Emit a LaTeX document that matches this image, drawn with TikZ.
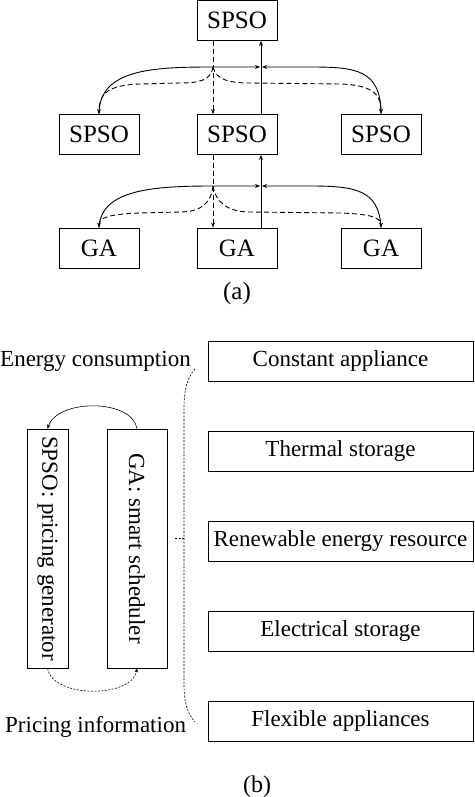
\documentclass[tikz,border=0pt]{standalone}
\usepackage{fontspec}
\setmainfont{Liberation Serif}
\usetikzlibrary{arrows.meta}
\tikzset{
  box/.style={draw,line width=0.9pt,minimum width=80pt,minimum height=40pt,inner sep=0pt,font=\fontsize{25}{28}\selectfont},
  rbox/.style={draw,line width=0.8pt,minimum width=265pt,minimum height=40pt,inner sep=0pt,font=\fontsize{23}{26}\selectfont},
  vbox/.style={draw,line width=0.8pt,rotate=-90,minimum width=239pt,inner sep=0pt,font=\fontsize{23}{26}\selectfont},
  flow/.style={line width=0.9pt,-{Stealth[length=5pt,width=4pt]}},
  dflow/.style={flow,dash pattern=on 5pt off 3pt},
  thin dash/.style={line width=0.6pt,dash pattern=on 2pt off 1.5pt}
}
\begin{document}
\begin{tikzpicture}[x=1pt,y=-1pt]
  \useasboundingbox (0,0) rectangle (474,797);
  % (a)
  \node [box] (top) at (237,20.5) {SPSO};
  \node [box] (m1) at (99,134.5) {SPSO};
  \node [box] (m2) at (237,134.5) {SPSO};
  \node [box] (m3) at (381,134.5) {SPSO};
  \node [box] (g1) at (99,248) {GA};
  \node [box] (g2) at (237,248) {GA};
  \node [box] (g3) at (381,248) {GA};
  \coordinate (h1) at (213,67);
  \coordinate (h2) at (213,186);
  \coordinate (in1) at (260,67);
  \coordinate (in1r) at (262,67);
  \coordinate (in2) at (260,186);
  \coordinate (in2r) at (262,186);
  \draw [dflow] ([xshift=-24pt]top.south)--([xshift=-24pt]m2.north);
  \draw [flow] ([xshift=24pt]m2.north)--([xshift=24pt]top.south);
  \draw [flow] (m1.north) .. controls +(0,-45) and +(-60,0) .. (h1)--(in1);
  \draw [flow] (m3.north) .. controls +(0,-45) and +(45,0) .. (310,67)--(in1r);
  \draw [dflow] (h1) .. controls +(-2,13) and +(20,0) .. (180,83)--(140,84) .. controls +(-35,1) and +(0,-18) .. (m1.north);
  \draw [dflow] (h1) .. controls +(3,13) and +(-20,0) .. (250,83)--(340,84) .. controls +(35,1) and +(0,-18) .. (m3.north);
  \draw [dflow] ([xshift=-24pt]m2.south)--([xshift=-24pt]g2.north);
  \draw [flow] ([xshift=24pt]g2.north)--([xshift=24pt]m2.south);
  \draw [flow] (g1.north) .. controls +(2,-38) and +(-60,0) .. (h2)--(in2);
  \draw [flow] (g3.north) .. controls +(-2,-38) and +(45,0) .. (310,186)--(in2r);
  \draw [dflow] (h2) .. controls +(-2,18) and +(20,0) .. (180,212)--(140,213) .. controls +(-30,1) and +(0,-10) .. (g1.north);
  \draw [dflow] (h2) .. controls +(3,18) and +(-20,0) .. (250,212)--(340,213) .. controls +(30,1) and +(0,-10) .. (g3.north);
  \node [font=\fontsize{25}{28}\selectfont] (la) at (237,293) {(a)};
  % (b)
  \node [anchor=west,inner sep=0pt,font=\fontsize{23}{26}\selectfont] (ec) at (0,361) {Energy consumption};
  \node [anchor=west,inner sep=0pt,font=\fontsize{23}{26}\selectfont] (pi) at (5,727) {Pricing information};
  \node [rbox] (r1) at (340.5,361) {Constant appliance};
  \node [rbox] (r2) at (340.5,451) {Thermal storage};
  \node [rbox] (r3) at (340.5,541) {Renewable energy resource};
  \node [rbox] (r4) at (340.5,631) {Electrical storage};
  \node [rbox] (r5) at (340.5,721) {Flexible appliances};
  \node [vbox,minimum height=41pt] (sp) at (47.5,548.5) {SPSO: pricing generator};
  \node [vbox,minimum height=60pt] (ga) at (137,548.5) {GA: smart scheduler};
  \draw [line width=0.6pt,-{Stealth[length=4pt,width=3.5pt]}] (ga.west) .. controls +(-5,-30) and +(10,-30) .. (sp.west);
  \draw [thin dash,-{Stealth[length=4pt,width=3.5pt]}] (sp.east) .. controls +(5,30) and +(-5,30) .. (ga.east);
  \coordinate (bt) at (195,369);
  \coordinate (bm) at (184,538);
  \coordinate (bk) at (175,538);
  \coordinate (bb) at (195,722);
  \draw [thin dash] (bt) .. controls +(-8,9) and +(0,-18) .. (184,408)--(184,684) .. controls +(0,18) and +(-8,-9) .. (bb);
  \draw [thin dash] (bm)--(bk);
  \node [font=\fontsize{24}{27}\selectfont] (lb) at (257,787) {(b)};
\end{tikzpicture}
\end{document}
